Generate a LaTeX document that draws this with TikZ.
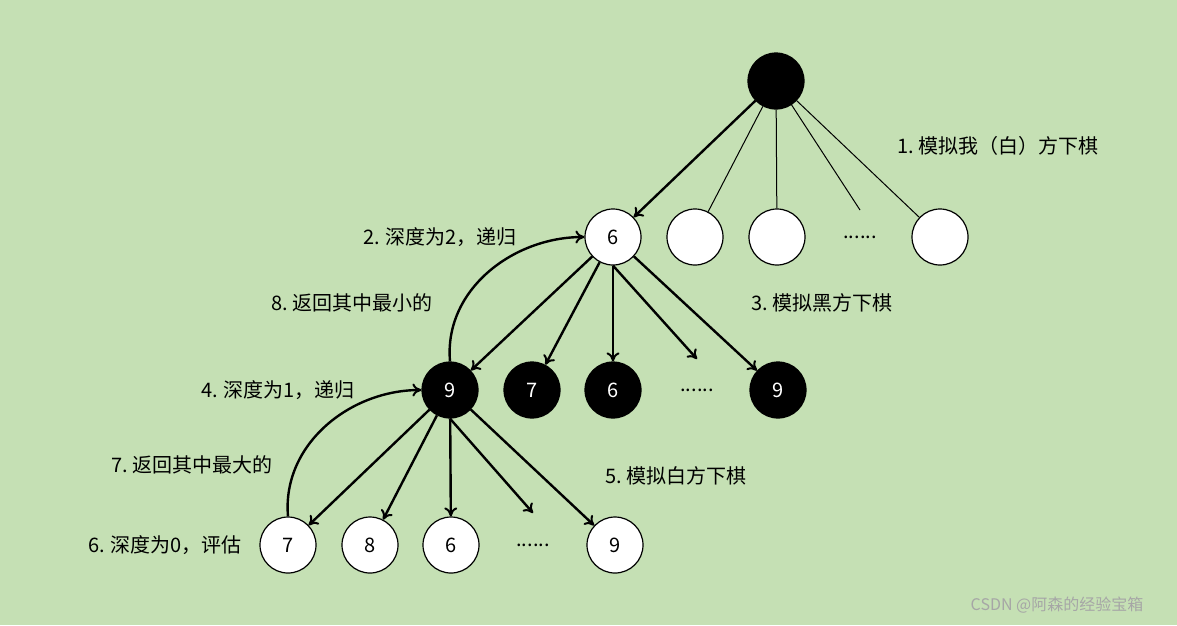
\documentclass[tikz,border=0pt]{standalone}
\usepackage{fontspec}
\setmainfont{Noto Sans CJK SC}
\usetikzlibrary{positioning,arrows.meta}
\definecolor{bg}{HTML}{C5E0B4}
\tikzset{wnode/.style={circle,draw,fill=white,line width=1.2pt,inner sep=0pt,minimum size=56pt,font=\fontsize{20}{22}\selectfont},
  bnode/.style={wnode,fill=black,text=white},
  dots/.style={inner sep=0pt,font=\fontsize{20}{22}\selectfont},
  lab/.style={font=\fontsize{20}{22}\selectfont},
  arr/.style={-{To[length=9pt,width=13pt,line width=2pt]},line width=2.4pt},
  thin/.style={line width=1pt}}

\begin{document}
\begin{tikzpicture}[x=1pt,y=-1pt]
    \fill[bg] (0,0) rectangle (1177,625);
    \useasboundingbox (0,0) rectangle (1177,625);

    \node[bnode] (root) at (776,81) {};

    \node[wnode] (a6) at (613,237) {6};
    \node[wnode] (a2) at (695,237) {};
    \node[wnode] (a3) at (777,237) {};
    \node[dots] (adots) at (860,237) {......};
    \node[wnode] (a5) at (940,237) {};

    \node[bnode] (b9) at (450,390) {9};
    \node[bnode] (b7) at (532,390) {7};
    \node[bnode] (b6) at (613,390) {6};
    \node[dots] (bdots) at (697,390) {......};
    \node[bnode] (b9r) at (778,390) {9};

    \node[wnode] (c7) at (288,545) {7};
    \node[wnode] (c8) at (370,545) {8};
    \node[wnode] (c6) at (451,545) {6};
    \node[dots] (cdots) at (533,545) {......};
    \node[wnode] (c9) at (615,545) {9};

    \coordinate (aend) at (860,210);
    \coordinate (bend) at (697,359);
    \coordinate (cend) at (533,513);

    \draw[arr] (root) -- (a6);
    \draw[thin] (root) -- (a2);
    \draw[thin] (root) -- (a3);
    \draw[thin] (root) -- (aend);
    \draw[thin] (root) -- (a5);

    \draw[arr] (a6) -- (b9);
    \draw[arr] (a6) -- (b7);
    \draw[arr] (a6) -- (b6);
    \draw[arr] (a6.south) -- (bend);
    \draw[arr] (a6) -- (b9r);

    \draw[arr] (b9) -- (c7);
    \draw[arr] (b9) -- (c8);
    \draw[arr] (b9) -- (c6);
    \draw[arr] (b9.south) -- (cend);
    \draw[arr] (b9) -- (c9);

    \draw[arr] (b9.north) to[out=95,in=180] (a6.west);
    \draw[arr] (c7.north) to[out=95,in=180] (b9.west);

    \node[lab] (l1) at (998,146) {1.~模拟我（白）方下棋};
    \node[lab] (l2) at (440,237) {2.~深度为2，递归};
    \node[lab] (l3) at (822,303) {3.~模拟黑方下棋};
    \node[lab] (l8) at (352,303) {8.~返回其中最小的};
    \node[lab] (l4) at (278,390) {4.~深度为1，递归};
    \node[lab] (l7) at (192,465) {7.~返回其中最大的};
    \node[lab] (l5) at (676,476) {5.~模拟白方下棋};
    \node[lab] (l6) at (165,545) {6.~深度为0，评估};
    \node[text=gray!70,font=\fontsize{16}{18}\selectfont] (wm) at (1057,605) {CSDN @阿森的经验宝箱};
\end{tikzpicture}
\end{document}
